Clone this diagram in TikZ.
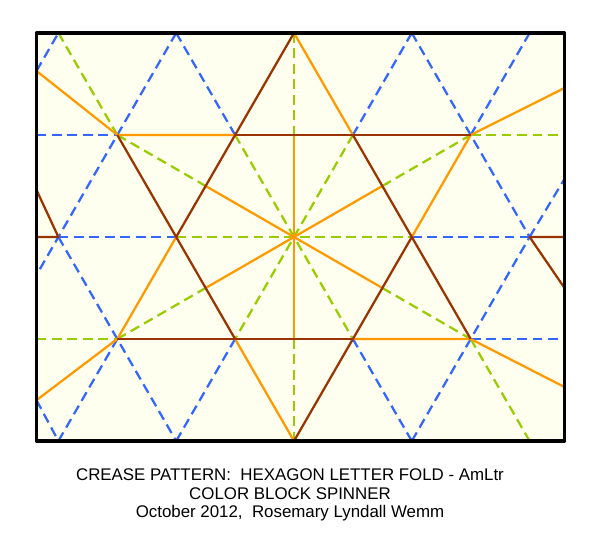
\documentclass[tikz,border=0pt]{standalone}
\usepackage{fontspec}
\setmainfont{Liberation Sans}
\definecolor{paper}{RGB}{255,255,240}
\definecolor{foldblue}{RGB}{51,102,255}
\definecolor{foldgreen}{RGB}{153,204,0}
\definecolor{foldorange}{RGB}{255,153,0}
\definecolor{foldbrown}{RGB}{153,51,0}
\begin{document}
\begin{tikzpicture}[x=1.4725cm,y=2.55cm,line join=round,
  bluefold/.style={foldblue,line width=1.6pt,dash pattern=on 7pt off 4pt},
  greenfold/.style={foldgreen,line width=1.6pt,dash pattern=on 7pt off 4pt},
  orangefold/.style={foldorange,line width=1.6pt},
  brownfold/.style={foldbrown,line width=1.6pt},
  sheet/.style={draw=black,line width=2.2pt}]
\pgfmathsetmacro{\kleft}{-4.372}
\pgfmathsetmacro{\kright}{4.593}
\useasboundingbox(-4.9915,-2.961)rectangle(5.246,2.3235);
\fill[paper](\kleft,-2)rectangle(\kright,2);
% blue dashed lattice
\foreach \a/\b in {{\kleft,1.628}/{-4,2},{\kleft,1}/{-3,1},{-2,2}/{\kleft,-0.372},{-2,2}/{-1,1},{2,2}/{1,1},{2,2}/{4,0},{4,2}/{3,1},{2,-2}/{4,0},{4,0}/{\kright,0.57},{-4,0}/{-2,0},{2,0}/{4,0},{-4,0}/{-2,-2},{-4,-2}/{-3,-1},{\kleft,-1.6}/{-4,-2},{-2,-2}/{-1,-1},{2,-2}/{1,-1},{3,-1}/{\kright,-1}}{\draw[bluefold](\a)--(\b);}
% green dashed
\foreach \a/\b in {{-4,2}/{-3,1},{-3,1}/{-1.5,0.5},{0,2}/{0,1},{-1,1}/{1,-1},{1,1}/{-1,-1},{-2,0}/{2,0},{1.5,0.5}/{3,1},{3,1}/{\kright,1},{\kleft,-1}/{-3,-1},{-3,-1}/{-1.5,-0.5},{0,-1}/{0,-2},{1.5,-0.5}/{3,-1},{3,-1}/{4,-2}}{\draw[greenfold](\a)--(\b);}
% orange
\draw[orangefold](\kleft,1.628)--(-3,1)--(-1,1);
\draw[orangefold](-1.5,0.5)--(1.5,-0.5);
\draw[orangefold](1.5,0.5)--(-1.5,-0.5);
\draw[orangefold](0,1)--(0,-1);
\draw[orangefold](0,2)--(1,1);
\draw[orangefold](2,0)--(3,1)--(\kright,1.461);
\draw[orangefold](-2,0)--(-3,-1)--(\kleft,-1.6);
\draw[orangefold](-1,-1)--(0,-2);
\draw[orangefold](1,-1)--(3,-1)--(\kright,-1.471);
% brown
\foreach \a/\b in {{0,2}/{-2,0},{-3,1}/{-1,-1},{-1,1}/{3,1},{1,1}/{3,-1},{0,-2}/{2,0},{-3,-1}/{1,-1}}{\draw[brownfold](\a)--(\b);}
\draw[brownfold](\kleft,0.461)--(-4,0)--(\kleft,0);
\draw[brownfold](\kright,0)--(4,0)--(\kright,-0.5);
\draw[sheet](\kleft,-2)rectangle(\kright,2);
\node[align=center,font=\fontsize{12}{13.2}\selectfont](caption)at(-0.068,-2.53){CREASE PATTERN:\ \ HEXAGON LETTER FOLD - AmLtr\\COLOR BLOCK SPINNER\\October 2012,\ \ Rosemary Lyndall Wemm};
\end{tikzpicture}
\end{document}
